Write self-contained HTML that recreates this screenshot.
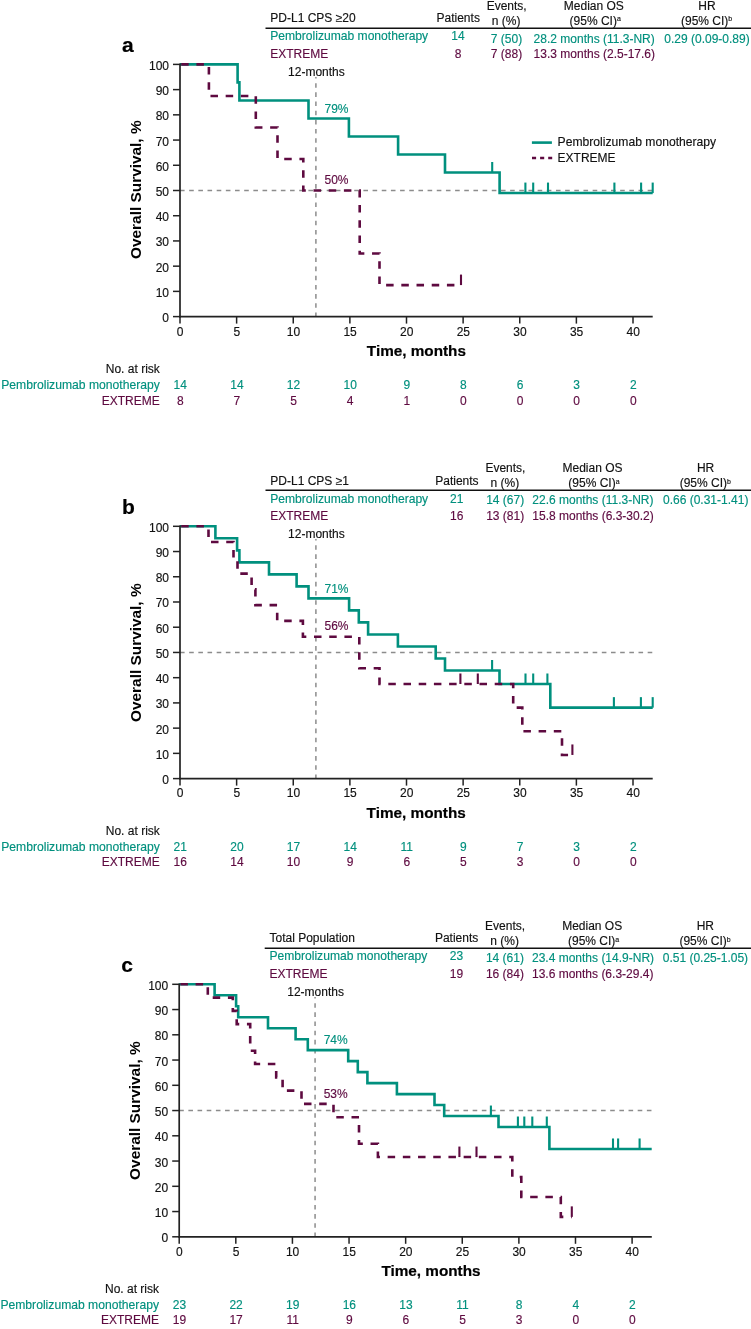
<!DOCTYPE html><html><head><meta charset="utf-8"><title>Overall survival</title><style>html,body{margin:0;padding:0;background:#fff;}svg{display:block;will-change:transform;}text{font-family:"Liberation Sans", sans-serif;}</style></head><body>
<svg width="751" height="1329" viewBox="0 0 751 1329">
<rect width="751" height="1329" fill="#fff"/>
<text x="270.30" y="22.40" font-size="12" text-anchor="start" fill="#111" stroke="#111" stroke-width="0.15" font-weight="normal" >PD-L1 CPS ≥20</text>
<text x="458.20" y="22.40" font-size="12" text-anchor="middle" fill="#111" stroke="#111" stroke-width="0.15" font-weight="normal" >Patients</text>
<text x="506.70" y="9.75" font-size="12" text-anchor="middle" fill="#111" stroke="#111" stroke-width="0.15" font-weight="normal" >Events,</text>
<text x="506.20" y="25.10" font-size="12" text-anchor="middle" fill="#111" stroke="#111" stroke-width="0.15" font-weight="normal" >n (%)</text>
<text x="593.80" y="9.75" font-size="12" text-anchor="middle" fill="#111" stroke="#111" stroke-width="0.15" font-weight="normal" >Median OS</text>
<text x="569.60" y="25.10" font-size="12" fill="#111" stroke="#111" stroke-width="0.15">(95% CI)<tspan font-size="7" dy="-3.8">a</tspan></text>
<text x="706.90" y="9.75" font-size="12" text-anchor="middle" fill="#111" stroke="#111" stroke-width="0.15" font-weight="normal" >HR</text>
<text x="681.00" y="25.10" font-size="12" fill="#111" stroke="#111" stroke-width="0.15">(95% CI)<tspan font-size="7" dy="-3.8">b</tspan></text>
<line x1="265.50" y1="28.20" x2="751" y2="28.20" stroke="#111" stroke-width="1.4"/>
<text x="270.20" y="40.30" font-size="12.1" text-anchor="start" fill="#00907e" stroke="#00907e" stroke-width="0.15" font-weight="normal" >Pembrolizumab monotherapy</text>
<text x="458.00" y="40.30" font-size="12" text-anchor="middle" fill="#00907e" stroke="#00907e" stroke-width="0.15" font-weight="normal" >14</text>
<text x="506.50" y="42.60" font-size="12" text-anchor="middle" fill="#00907e" stroke="#00907e" stroke-width="0.15" font-weight="normal" >7 (50)</text>
<text x="533.60" y="42.60" font-size="12" text-anchor="start" fill="#00907e" stroke="#00907e" stroke-width="0.15" font-weight="normal" >28.2 months (11.3-NR)</text>
<text x="707.00" y="42.60" font-size="12" text-anchor="middle" fill="#00907e" stroke="#00907e" stroke-width="0.15" font-weight="normal" >0.29 (0.09-0.89)</text>
<text x="270.20" y="58.20" font-size="12" text-anchor="start" fill="#5e0a40" stroke="#5e0a40" stroke-width="0.15" font-weight="normal" >EXTREME</text>
<text x="458.00" y="58.20" font-size="12" text-anchor="middle" fill="#5e0a40" stroke="#5e0a40" stroke-width="0.15" font-weight="normal" >8</text>
<text x="506.50" y="58.20" font-size="12" text-anchor="middle" fill="#5e0a40" stroke="#5e0a40" stroke-width="0.15" font-weight="normal" >7 (88)</text>
<text x="533.60" y="58.20" font-size="12" text-anchor="start" fill="#5e0a40" stroke="#5e0a40" stroke-width="0.15" font-weight="normal" >13.3 months (2.5-17.6)</text>
<text x="122.00" y="51.60" font-size="21" text-anchor="start" fill="#000" stroke="#000" stroke-width="0.2" font-weight="bold" >a</text>
<text x="0" y="0" font-size="15.4" font-weight="bold" fill="#000" text-anchor="middle" transform="translate(140.60,189.70) rotate(-90)">Overall Survival, %</text>
<text x="416.40" y="355.80" font-size="15.3" text-anchor="middle" fill="#000" stroke="#000" stroke-width="0.2" font-weight="bold" >Time, months</text>
<line x1="180.00" y1="190.50" x2="652.70" y2="190.50" stroke="#8c8c8c" stroke-width="1.5" stroke-dasharray="4.6 4.57"/>
<line x1="315.90" y1="77.00" x2="315.90" y2="316.60" stroke="#8c8c8c" stroke-width="1.5" stroke-dasharray="4.6 4.57" stroke-dashoffset="3.0"/>
<text x="316.40" y="75.60" font-size="12" text-anchor="middle" fill="#111" stroke="#111" stroke-width="0.15" font-weight="normal" >12-months</text>
<line x1="173.00" y1="316.60" x2="180.00" y2="316.60" stroke="#222" stroke-width="1.5"/>
<text x="169.00" y="322.10" font-size="12" text-anchor="end" fill="#111" stroke="#111" stroke-width="0.15" font-weight="normal" >0</text>
<line x1="173.00" y1="291.38" x2="180.00" y2="291.38" stroke="#222" stroke-width="1.5"/>
<text x="169.00" y="296.88" font-size="12" text-anchor="end" fill="#111" stroke="#111" stroke-width="0.15" font-weight="normal" >10</text>
<line x1="173.00" y1="266.16" x2="180.00" y2="266.16" stroke="#222" stroke-width="1.5"/>
<text x="169.00" y="271.66" font-size="12" text-anchor="end" fill="#111" stroke="#111" stroke-width="0.15" font-weight="normal" >20</text>
<line x1="173.00" y1="240.94" x2="180.00" y2="240.94" stroke="#222" stroke-width="1.5"/>
<text x="169.00" y="246.44" font-size="12" text-anchor="end" fill="#111" stroke="#111" stroke-width="0.15" font-weight="normal" >30</text>
<line x1="173.00" y1="215.72" x2="180.00" y2="215.72" stroke="#222" stroke-width="1.5"/>
<text x="169.00" y="221.22" font-size="12" text-anchor="end" fill="#111" stroke="#111" stroke-width="0.15" font-weight="normal" >40</text>
<line x1="173.00" y1="190.50" x2="180.00" y2="190.50" stroke="#222" stroke-width="1.5"/>
<text x="169.00" y="196.00" font-size="12" text-anchor="end" fill="#111" stroke="#111" stroke-width="0.15" font-weight="normal" >50</text>
<line x1="173.00" y1="165.28" x2="180.00" y2="165.28" stroke="#222" stroke-width="1.5"/>
<text x="169.00" y="170.78" font-size="12" text-anchor="end" fill="#111" stroke="#111" stroke-width="0.15" font-weight="normal" >60</text>
<line x1="173.00" y1="140.06" x2="180.00" y2="140.06" stroke="#222" stroke-width="1.5"/>
<text x="169.00" y="145.56" font-size="12" text-anchor="end" fill="#111" stroke="#111" stroke-width="0.15" font-weight="normal" >70</text>
<line x1="173.00" y1="114.84" x2="180.00" y2="114.84" stroke="#222" stroke-width="1.5"/>
<text x="169.00" y="120.34" font-size="12" text-anchor="end" fill="#111" stroke="#111" stroke-width="0.15" font-weight="normal" >80</text>
<line x1="173.00" y1="89.62" x2="180.00" y2="89.62" stroke="#222" stroke-width="1.5"/>
<text x="169.00" y="95.12" font-size="12" text-anchor="end" fill="#111" stroke="#111" stroke-width="0.15" font-weight="normal" >90</text>
<line x1="173.00" y1="64.40" x2="180.00" y2="64.40" stroke="#222" stroke-width="1.5"/>
<text x="169.00" y="69.90" font-size="12" text-anchor="end" fill="#111" stroke="#111" stroke-width="0.15" font-weight="normal" >100</text>
<line x1="180.00" y1="316.60" x2="180.00" y2="323.60" stroke="#222" stroke-width="1.5"/>
<text x="180.20" y="335.60" font-size="12" text-anchor="middle" fill="#111" stroke="#111" stroke-width="0.15" font-weight="normal" >0</text>
<line x1="236.62" y1="316.60" x2="236.62" y2="323.60" stroke="#222" stroke-width="1.5"/>
<text x="236.82" y="335.60" font-size="12" text-anchor="middle" fill="#111" stroke="#111" stroke-width="0.15" font-weight="normal" >5</text>
<line x1="293.25" y1="316.60" x2="293.25" y2="323.60" stroke="#222" stroke-width="1.5"/>
<text x="293.45" y="335.60" font-size="12" text-anchor="middle" fill="#111" stroke="#111" stroke-width="0.15" font-weight="normal" >10</text>
<line x1="349.88" y1="316.60" x2="349.88" y2="323.60" stroke="#222" stroke-width="1.5"/>
<text x="350.07" y="335.60" font-size="12" text-anchor="middle" fill="#111" stroke="#111" stroke-width="0.15" font-weight="normal" >15</text>
<line x1="406.50" y1="316.60" x2="406.50" y2="323.60" stroke="#222" stroke-width="1.5"/>
<text x="406.70" y="335.60" font-size="12" text-anchor="middle" fill="#111" stroke="#111" stroke-width="0.15" font-weight="normal" >20</text>
<line x1="463.12" y1="316.60" x2="463.12" y2="323.60" stroke="#222" stroke-width="1.5"/>
<text x="463.32" y="335.60" font-size="12" text-anchor="middle" fill="#111" stroke="#111" stroke-width="0.15" font-weight="normal" >25</text>
<line x1="519.75" y1="316.60" x2="519.75" y2="323.60" stroke="#222" stroke-width="1.5"/>
<text x="519.95" y="335.60" font-size="12" text-anchor="middle" fill="#111" stroke="#111" stroke-width="0.15" font-weight="normal" >30</text>
<line x1="576.38" y1="316.60" x2="576.38" y2="323.60" stroke="#222" stroke-width="1.5"/>
<text x="576.58" y="335.60" font-size="12" text-anchor="middle" fill="#111" stroke="#111" stroke-width="0.15" font-weight="normal" >35</text>
<line x1="633.00" y1="316.60" x2="633.00" y2="323.60" stroke="#222" stroke-width="1.5"/>
<text x="633.20" y="335.60" font-size="12" text-anchor="middle" fill="#111" stroke="#111" stroke-width="0.15" font-weight="normal" >40</text>
<path d="M180.00,64.40 H237.60 V82.41 H239.40 V100.43 H308.50 V118.44 H348.90 V136.46 H398.10 V154.47 H445.00 V172.49 H499.60 V193.07 H652.70" fill="none" stroke="#00907e" stroke-width="2.6" stroke-linejoin="miter" stroke-linecap="butt"/>
<line x1="492.20" y1="172.49" x2="492.20" y2="161.99" stroke="#00907e" stroke-width="2.1"/>
<line x1="525.40" y1="193.07" x2="525.40" y2="182.57" stroke="#00907e" stroke-width="2.1"/>
<line x1="533.20" y1="193.07" x2="533.20" y2="182.57" stroke="#00907e" stroke-width="2.1"/>
<line x1="548.00" y1="193.07" x2="548.00" y2="182.57" stroke="#00907e" stroke-width="2.1"/>
<line x1="614.40" y1="193.07" x2="614.40" y2="182.57" stroke="#00907e" stroke-width="2.1"/>
<line x1="641.10" y1="193.07" x2="641.10" y2="182.57" stroke="#00907e" stroke-width="2.1"/>
<line x1="652.70" y1="193.07" x2="652.70" y2="182.57" stroke="#00907e" stroke-width="2.1"/>
<path d="M180.00,64.40 H208.90 V95.93 H255.80 V127.45 H277.50 V158.98 H303.30 V190.50 H359.70 V253.55 H379.50 V285.08 H461.00" fill="none" stroke="#5e0a40" stroke-width="2.6" stroke-dasharray="7.5 7.7" stroke-dashoffset="-1.2" stroke-linejoin="miter" stroke-linecap="butt"/>
<line x1="461.00" y1="285.08" x2="461.00" y2="274.58" stroke="#5e0a40" stroke-width="2.1"/>
<line x1="180.00" y1="63.60" x2="180.00" y2="317.40" stroke="#222" stroke-width="1.7"/>
<line x1="179.20" y1="316.60" x2="652.70" y2="316.60" stroke="#222" stroke-width="1.7"/>
<text x="324.50" y="112.50" font-size="12" text-anchor="start" fill="#00907e" stroke="#00907e" stroke-width="0.15" font-weight="normal" >79%</text>
<text x="324.50" y="184.00" font-size="12" text-anchor="start" fill="#5e0a40" stroke="#5e0a40" stroke-width="0.15" font-weight="normal" >50%</text>
<text x="159.80" y="372.90" font-size="12" text-anchor="end" fill="#111" stroke="#111" stroke-width="0.15" font-weight="normal" >No. at risk</text>
<text x="159.80" y="389.30" font-size="12.15" text-anchor="end" fill="#00907e" stroke="#00907e" stroke-width="0.15" font-weight="normal" >Pembrolizumab monotherapy</text>
<text x="159.80" y="404.90" font-size="12" text-anchor="end" fill="#5e0a40" stroke="#5e0a40" stroke-width="0.15" font-weight="normal" >EXTREME</text>
<text x="180.30" y="389.30" font-size="12" text-anchor="middle" fill="#00907e" stroke="#00907e" stroke-width="0.15" font-weight="normal" >14</text>
<text x="180.30" y="404.90" font-size="12" text-anchor="middle" fill="#5e0a40" stroke="#5e0a40" stroke-width="0.15" font-weight="normal" >8</text>
<text x="236.93" y="389.30" font-size="12" text-anchor="middle" fill="#00907e" stroke="#00907e" stroke-width="0.15" font-weight="normal" >14</text>
<text x="236.93" y="404.90" font-size="12" text-anchor="middle" fill="#5e0a40" stroke="#5e0a40" stroke-width="0.15" font-weight="normal" >7</text>
<text x="293.55" y="389.30" font-size="12" text-anchor="middle" fill="#00907e" stroke="#00907e" stroke-width="0.15" font-weight="normal" >12</text>
<text x="293.55" y="404.90" font-size="12" text-anchor="middle" fill="#5e0a40" stroke="#5e0a40" stroke-width="0.15" font-weight="normal" >5</text>
<text x="350.18" y="389.30" font-size="12" text-anchor="middle" fill="#00907e" stroke="#00907e" stroke-width="0.15" font-weight="normal" >10</text>
<text x="350.18" y="404.90" font-size="12" text-anchor="middle" fill="#5e0a40" stroke="#5e0a40" stroke-width="0.15" font-weight="normal" >4</text>
<text x="406.80" y="389.30" font-size="12" text-anchor="middle" fill="#00907e" stroke="#00907e" stroke-width="0.15" font-weight="normal" >9</text>
<text x="406.80" y="404.90" font-size="12" text-anchor="middle" fill="#5e0a40" stroke="#5e0a40" stroke-width="0.15" font-weight="normal" >1</text>
<text x="463.43" y="389.30" font-size="12" text-anchor="middle" fill="#00907e" stroke="#00907e" stroke-width="0.15" font-weight="normal" >8</text>
<text x="463.43" y="404.90" font-size="12" text-anchor="middle" fill="#5e0a40" stroke="#5e0a40" stroke-width="0.15" font-weight="normal" >0</text>
<text x="520.05" y="389.30" font-size="12" text-anchor="middle" fill="#00907e" stroke="#00907e" stroke-width="0.15" font-weight="normal" >6</text>
<text x="520.05" y="404.90" font-size="12" text-anchor="middle" fill="#5e0a40" stroke="#5e0a40" stroke-width="0.15" font-weight="normal" >0</text>
<text x="576.67" y="389.30" font-size="12" text-anchor="middle" fill="#00907e" stroke="#00907e" stroke-width="0.15" font-weight="normal" >3</text>
<text x="576.67" y="404.90" font-size="12" text-anchor="middle" fill="#5e0a40" stroke="#5e0a40" stroke-width="0.15" font-weight="normal" >0</text>
<text x="633.30" y="389.30" font-size="12" text-anchor="middle" fill="#00907e" stroke="#00907e" stroke-width="0.15" font-weight="normal" >2</text>
<text x="633.30" y="404.90" font-size="12" text-anchor="middle" fill="#5e0a40" stroke="#5e0a40" stroke-width="0.15" font-weight="normal" >0</text>
<line x1="531.9" y1="142.6" x2="551.9" y2="142.6" stroke="#00907e" stroke-width="2.6"/>
<line x1="532.0" y1="158.0" x2="552.2" y2="158.0" stroke="#5e0a40" stroke-width="2.6" stroke-dasharray="4.1 4"/>
<text x="557.60" y="145.80" font-size="12.15" text-anchor="start" fill="#111" stroke="#111" stroke-width="0.15" font-weight="normal" >Pembrolizumab monotherapy</text>
<text x="557.60" y="162.00" font-size="12" text-anchor="start" fill="#111" stroke="#111" stroke-width="0.15" font-weight="normal" >EXTREME</text>
<text x="270.30" y="484.60" font-size="12" text-anchor="start" fill="#111" stroke="#111" stroke-width="0.15" font-weight="normal" >PD-L1 CPS ≥1</text>
<text x="456.90" y="484.60" font-size="12" text-anchor="middle" fill="#111" stroke="#111" stroke-width="0.15" font-weight="normal" >Patients</text>
<text x="505.40" y="471.80" font-size="12" text-anchor="middle" fill="#111" stroke="#111" stroke-width="0.15" font-weight="normal" >Events,</text>
<text x="504.90" y="487.30" font-size="12" text-anchor="middle" fill="#111" stroke="#111" stroke-width="0.15" font-weight="normal" >n (%)</text>
<text x="592.50" y="471.80" font-size="12" text-anchor="middle" fill="#111" stroke="#111" stroke-width="0.15" font-weight="normal" >Median OS</text>
<text x="568.30" y="487.30" font-size="12" fill="#111" stroke="#111" stroke-width="0.15">(95% CI)<tspan font-size="7" dy="-3.8">a</tspan></text>
<text x="705.60" y="471.80" font-size="12" text-anchor="middle" fill="#111" stroke="#111" stroke-width="0.15" font-weight="normal" >HR</text>
<text x="679.70" y="487.30" font-size="12" fill="#111" stroke="#111" stroke-width="0.15">(95% CI)<tspan font-size="7" dy="-3.8">b</tspan></text>
<line x1="265.50" y1="490.20" x2="751" y2="490.20" stroke="#111" stroke-width="1.4"/>
<text x="270.20" y="502.60" font-size="12.1" text-anchor="start" fill="#00907e" stroke="#00907e" stroke-width="0.15" font-weight="normal" >Pembrolizumab monotherapy</text>
<text x="456.70" y="502.60" font-size="12" text-anchor="middle" fill="#00907e" stroke="#00907e" stroke-width="0.15" font-weight="normal" >21</text>
<text x="505.20" y="504.30" font-size="12" text-anchor="middle" fill="#00907e" stroke="#00907e" stroke-width="0.15" font-weight="normal" >14 (67)</text>
<text x="532.30" y="504.30" font-size="12" text-anchor="start" fill="#00907e" stroke="#00907e" stroke-width="0.15" font-weight="normal" >22.6 months (11.3-NR)</text>
<text x="705.70" y="504.30" font-size="12" text-anchor="middle" fill="#00907e" stroke="#00907e" stroke-width="0.15" font-weight="normal" >0.66 (0.31-1.41)</text>
<text x="270.20" y="519.90" font-size="12" text-anchor="start" fill="#5e0a40" stroke="#5e0a40" stroke-width="0.15" font-weight="normal" >EXTREME</text>
<text x="456.70" y="519.90" font-size="12" text-anchor="middle" fill="#5e0a40" stroke="#5e0a40" stroke-width="0.15" font-weight="normal" >16</text>
<text x="505.20" y="519.90" font-size="12" text-anchor="middle" fill="#5e0a40" stroke="#5e0a40" stroke-width="0.15" font-weight="normal" >13 (81)</text>
<text x="532.30" y="519.90" font-size="12" text-anchor="start" fill="#5e0a40" stroke="#5e0a40" stroke-width="0.15" font-weight="normal" >15.8 months (6.3-30.2)</text>
<text x="122.00" y="513.50" font-size="21" text-anchor="start" fill="#000" stroke="#000" stroke-width="0.2" font-weight="bold" >b</text>
<text x="0" y="0" font-size="15.4" font-weight="bold" fill="#000" text-anchor="middle" transform="translate(140.60,652.70) rotate(-90)">Overall Survival, %</text>
<text x="416.20" y="817.50" font-size="15.3" text-anchor="middle" fill="#000" stroke="#000" stroke-width="0.2" font-weight="bold" >Time, months</text>
<line x1="180.00" y1="652.45" x2="652.70" y2="652.45" stroke="#8c8c8c" stroke-width="1.5" stroke-dasharray="4.6 4.57"/>
<line x1="315.90" y1="539.00" x2="315.90" y2="778.60" stroke="#8c8c8c" stroke-width="1.5" stroke-dasharray="4.6 4.57" stroke-dashoffset="3.0"/>
<text x="316.40" y="537.60" font-size="12" text-anchor="middle" fill="#111" stroke="#111" stroke-width="0.15" font-weight="normal" >12-months</text>
<line x1="173.00" y1="778.60" x2="180.00" y2="778.60" stroke="#222" stroke-width="1.5"/>
<text x="169.00" y="784.10" font-size="12" text-anchor="end" fill="#111" stroke="#111" stroke-width="0.15" font-weight="normal" >0</text>
<line x1="173.00" y1="753.37" x2="180.00" y2="753.37" stroke="#222" stroke-width="1.5"/>
<text x="169.00" y="758.87" font-size="12" text-anchor="end" fill="#111" stroke="#111" stroke-width="0.15" font-weight="normal" >10</text>
<line x1="173.00" y1="728.14" x2="180.00" y2="728.14" stroke="#222" stroke-width="1.5"/>
<text x="169.00" y="733.64" font-size="12" text-anchor="end" fill="#111" stroke="#111" stroke-width="0.15" font-weight="normal" >20</text>
<line x1="173.00" y1="702.91" x2="180.00" y2="702.91" stroke="#222" stroke-width="1.5"/>
<text x="169.00" y="708.41" font-size="12" text-anchor="end" fill="#111" stroke="#111" stroke-width="0.15" font-weight="normal" >30</text>
<line x1="173.00" y1="677.68" x2="180.00" y2="677.68" stroke="#222" stroke-width="1.5"/>
<text x="169.00" y="683.18" font-size="12" text-anchor="end" fill="#111" stroke="#111" stroke-width="0.15" font-weight="normal" >40</text>
<line x1="173.00" y1="652.45" x2="180.00" y2="652.45" stroke="#222" stroke-width="1.5"/>
<text x="169.00" y="657.95" font-size="12" text-anchor="end" fill="#111" stroke="#111" stroke-width="0.15" font-weight="normal" >50</text>
<line x1="173.00" y1="627.22" x2="180.00" y2="627.22" stroke="#222" stroke-width="1.5"/>
<text x="169.00" y="632.72" font-size="12" text-anchor="end" fill="#111" stroke="#111" stroke-width="0.15" font-weight="normal" >60</text>
<line x1="173.00" y1="601.99" x2="180.00" y2="601.99" stroke="#222" stroke-width="1.5"/>
<text x="169.00" y="607.49" font-size="12" text-anchor="end" fill="#111" stroke="#111" stroke-width="0.15" font-weight="normal" >70</text>
<line x1="173.00" y1="576.76" x2="180.00" y2="576.76" stroke="#222" stroke-width="1.5"/>
<text x="169.00" y="582.26" font-size="12" text-anchor="end" fill="#111" stroke="#111" stroke-width="0.15" font-weight="normal" >80</text>
<line x1="173.00" y1="551.53" x2="180.00" y2="551.53" stroke="#222" stroke-width="1.5"/>
<text x="169.00" y="557.03" font-size="12" text-anchor="end" fill="#111" stroke="#111" stroke-width="0.15" font-weight="normal" >90</text>
<line x1="173.00" y1="526.30" x2="180.00" y2="526.30" stroke="#222" stroke-width="1.5"/>
<text x="169.00" y="531.80" font-size="12" text-anchor="end" fill="#111" stroke="#111" stroke-width="0.15" font-weight="normal" >100</text>
<line x1="180.00" y1="778.60" x2="180.00" y2="785.60" stroke="#222" stroke-width="1.5"/>
<text x="180.20" y="797.00" font-size="12" text-anchor="middle" fill="#111" stroke="#111" stroke-width="0.15" font-weight="normal" >0</text>
<line x1="236.62" y1="778.60" x2="236.62" y2="785.60" stroke="#222" stroke-width="1.5"/>
<text x="236.82" y="797.00" font-size="12" text-anchor="middle" fill="#111" stroke="#111" stroke-width="0.15" font-weight="normal" >5</text>
<line x1="293.25" y1="778.60" x2="293.25" y2="785.60" stroke="#222" stroke-width="1.5"/>
<text x="293.45" y="797.00" font-size="12" text-anchor="middle" fill="#111" stroke="#111" stroke-width="0.15" font-weight="normal" >10</text>
<line x1="349.88" y1="778.60" x2="349.88" y2="785.60" stroke="#222" stroke-width="1.5"/>
<text x="350.07" y="797.00" font-size="12" text-anchor="middle" fill="#111" stroke="#111" stroke-width="0.15" font-weight="normal" >15</text>
<line x1="406.50" y1="778.60" x2="406.50" y2="785.60" stroke="#222" stroke-width="1.5"/>
<text x="406.70" y="797.00" font-size="12" text-anchor="middle" fill="#111" stroke="#111" stroke-width="0.15" font-weight="normal" >20</text>
<line x1="463.12" y1="778.60" x2="463.12" y2="785.60" stroke="#222" stroke-width="1.5"/>
<text x="463.32" y="797.00" font-size="12" text-anchor="middle" fill="#111" stroke="#111" stroke-width="0.15" font-weight="normal" >25</text>
<line x1="519.75" y1="778.60" x2="519.75" y2="785.60" stroke="#222" stroke-width="1.5"/>
<text x="519.95" y="797.00" font-size="12" text-anchor="middle" fill="#111" stroke="#111" stroke-width="0.15" font-weight="normal" >30</text>
<line x1="576.38" y1="778.60" x2="576.38" y2="785.60" stroke="#222" stroke-width="1.5"/>
<text x="576.58" y="797.00" font-size="12" text-anchor="middle" fill="#111" stroke="#111" stroke-width="0.15" font-weight="normal" >35</text>
<line x1="633.00" y1="778.60" x2="633.00" y2="785.60" stroke="#222" stroke-width="1.5"/>
<text x="633.20" y="797.00" font-size="12" text-anchor="middle" fill="#111" stroke="#111" stroke-width="0.15" font-weight="normal" >40</text>
<path d="M180.00,526.30 H215.40 V538.31 H237.10 V550.33 H239.40 V562.34 H269.00 V574.36 H296.60 V586.37 H308.50 V598.38 H349.10 V610.40 H358.80 V622.41 H368.10 V634.43 H397.90 V646.44 H435.70 V658.46 H445.00 V670.47 H499.50 V683.99 H550.30 V707.64 H652.70" fill="none" stroke="#00907e" stroke-width="2.6" stroke-linejoin="miter" stroke-linecap="butt"/>
<line x1="492.10" y1="670.47" x2="492.10" y2="659.97" stroke="#00907e" stroke-width="2.1"/>
<line x1="525.50" y1="683.99" x2="525.50" y2="673.49" stroke="#00907e" stroke-width="2.1"/>
<line x1="533.20" y1="683.99" x2="533.20" y2="673.49" stroke="#00907e" stroke-width="2.1"/>
<line x1="547.40" y1="683.99" x2="547.40" y2="673.49" stroke="#00907e" stroke-width="2.1"/>
<line x1="613.90" y1="707.64" x2="613.90" y2="697.14" stroke="#00907e" stroke-width="2.1"/>
<line x1="640.90" y1="707.64" x2="640.90" y2="697.14" stroke="#00907e" stroke-width="2.1"/>
<line x1="652.70" y1="707.64" x2="652.70" y2="697.14" stroke="#00907e" stroke-width="2.1"/>
<path d="M180.00,526.30 H208.50 V542.07 H233.50 V557.84 H237.50 V573.61 H251.60 V589.38 H255.40 V605.14 H277.20 V620.91 H302.90 V636.68 H359.30 V668.22 H379.50 V683.99 H513.20 V707.64 H522.30 V731.29 H562.00 V754.95 H572.40" fill="none" stroke="#5e0a40" stroke-width="2.6" stroke-dasharray="7.5 7.7" stroke-dashoffset="-1.2" stroke-linejoin="miter" stroke-linecap="butt"/>
<line x1="460.40" y1="683.99" x2="460.40" y2="673.49" stroke="#5e0a40" stroke-width="2.1"/>
<line x1="477.80" y1="683.99" x2="477.80" y2="673.49" stroke="#5e0a40" stroke-width="2.1"/>
<line x1="572.40" y1="754.95" x2="572.40" y2="744.45" stroke="#5e0a40" stroke-width="2.1"/>
<line x1="180.00" y1="525.50" x2="180.00" y2="779.40" stroke="#222" stroke-width="1.7"/>
<line x1="179.20" y1="778.60" x2="652.70" y2="778.60" stroke="#222" stroke-width="1.7"/>
<text x="324.50" y="592.60" font-size="12" text-anchor="start" fill="#00907e" stroke="#00907e" stroke-width="0.15" font-weight="normal" >71%</text>
<text x="324.50" y="630.00" font-size="12" text-anchor="start" fill="#5e0a40" stroke="#5e0a40" stroke-width="0.15" font-weight="normal" >56%</text>
<text x="159.80" y="834.60" font-size="12" text-anchor="end" fill="#111" stroke="#111" stroke-width="0.15" font-weight="normal" >No. at risk</text>
<text x="159.80" y="850.60" font-size="12.15" text-anchor="end" fill="#00907e" stroke="#00907e" stroke-width="0.15" font-weight="normal" >Pembrolizumab monotherapy</text>
<text x="159.80" y="866.20" font-size="12" text-anchor="end" fill="#5e0a40" stroke="#5e0a40" stroke-width="0.15" font-weight="normal" >EXTREME</text>
<text x="180.30" y="850.60" font-size="12" text-anchor="middle" fill="#00907e" stroke="#00907e" stroke-width="0.15" font-weight="normal" >21</text>
<text x="180.30" y="866.20" font-size="12" text-anchor="middle" fill="#5e0a40" stroke="#5e0a40" stroke-width="0.15" font-weight="normal" >16</text>
<text x="236.93" y="850.60" font-size="12" text-anchor="middle" fill="#00907e" stroke="#00907e" stroke-width="0.15" font-weight="normal" >20</text>
<text x="236.93" y="866.20" font-size="12" text-anchor="middle" fill="#5e0a40" stroke="#5e0a40" stroke-width="0.15" font-weight="normal" >14</text>
<text x="293.55" y="850.60" font-size="12" text-anchor="middle" fill="#00907e" stroke="#00907e" stroke-width="0.15" font-weight="normal" >17</text>
<text x="293.55" y="866.20" font-size="12" text-anchor="middle" fill="#5e0a40" stroke="#5e0a40" stroke-width="0.15" font-weight="normal" >10</text>
<text x="350.18" y="850.60" font-size="12" text-anchor="middle" fill="#00907e" stroke="#00907e" stroke-width="0.15" font-weight="normal" >14</text>
<text x="350.18" y="866.20" font-size="12" text-anchor="middle" fill="#5e0a40" stroke="#5e0a40" stroke-width="0.15" font-weight="normal" >9</text>
<text x="406.80" y="850.60" font-size="12" text-anchor="middle" fill="#00907e" stroke="#00907e" stroke-width="0.15" font-weight="normal" >11</text>
<text x="406.80" y="866.20" font-size="12" text-anchor="middle" fill="#5e0a40" stroke="#5e0a40" stroke-width="0.15" font-weight="normal" >6</text>
<text x="463.43" y="850.60" font-size="12" text-anchor="middle" fill="#00907e" stroke="#00907e" stroke-width="0.15" font-weight="normal" >9</text>
<text x="463.43" y="866.20" font-size="12" text-anchor="middle" fill="#5e0a40" stroke="#5e0a40" stroke-width="0.15" font-weight="normal" >5</text>
<text x="520.05" y="850.60" font-size="12" text-anchor="middle" fill="#00907e" stroke="#00907e" stroke-width="0.15" font-weight="normal" >7</text>
<text x="520.05" y="866.20" font-size="12" text-anchor="middle" fill="#5e0a40" stroke="#5e0a40" stroke-width="0.15" font-weight="normal" >3</text>
<text x="576.67" y="850.60" font-size="12" text-anchor="middle" fill="#00907e" stroke="#00907e" stroke-width="0.15" font-weight="normal" >3</text>
<text x="576.67" y="866.20" font-size="12" text-anchor="middle" fill="#5e0a40" stroke="#5e0a40" stroke-width="0.15" font-weight="normal" >0</text>
<text x="633.30" y="850.60" font-size="12" text-anchor="middle" fill="#00907e" stroke="#00907e" stroke-width="0.15" font-weight="normal" >2</text>
<text x="633.30" y="866.20" font-size="12" text-anchor="middle" fill="#5e0a40" stroke="#5e0a40" stroke-width="0.15" font-weight="normal" >0</text>
<text x="269.50" y="942.00" font-size="12" text-anchor="start" fill="#111" stroke="#111" stroke-width="0.15" font-weight="normal" >Total Population</text>
<text x="456.60" y="942.00" font-size="12" text-anchor="middle" fill="#111" stroke="#111" stroke-width="0.15" font-weight="normal" >Patients</text>
<text x="505.10" y="930.00" font-size="12" text-anchor="middle" fill="#111" stroke="#111" stroke-width="0.15" font-weight="normal" >Events,</text>
<text x="504.60" y="945.40" font-size="12" text-anchor="middle" fill="#111" stroke="#111" stroke-width="0.15" font-weight="normal" >n (%)</text>
<text x="592.20" y="930.00" font-size="12" text-anchor="middle" fill="#111" stroke="#111" stroke-width="0.15" font-weight="normal" >Median OS</text>
<text x="568.00" y="945.40" font-size="12" fill="#111" stroke="#111" stroke-width="0.15">(95% CI)<tspan font-size="7" dy="-3.8">a</tspan></text>
<text x="705.30" y="930.00" font-size="12" text-anchor="middle" fill="#111" stroke="#111" stroke-width="0.15" font-weight="normal" >HR</text>
<text x="679.40" y="945.40" font-size="12" fill="#111" stroke="#111" stroke-width="0.15">(95% CI)<tspan font-size="7" dy="-3.8">b</tspan></text>
<line x1="264.70" y1="948.20" x2="751" y2="948.20" stroke="#111" stroke-width="1.4"/>
<text x="269.40" y="960.20" font-size="12.1" text-anchor="start" fill="#00907e" stroke="#00907e" stroke-width="0.15" font-weight="normal" >Pembrolizumab monotherapy</text>
<text x="456.40" y="960.20" font-size="12" text-anchor="middle" fill="#00907e" stroke="#00907e" stroke-width="0.15" font-weight="normal" >23</text>
<text x="504.90" y="962.40" font-size="12" text-anchor="middle" fill="#00907e" stroke="#00907e" stroke-width="0.15" font-weight="normal" >14 (61)</text>
<text x="532.00" y="962.40" font-size="12" text-anchor="start" fill="#00907e" stroke="#00907e" stroke-width="0.15" font-weight="normal" >23.4 months (14.9-NR)</text>
<text x="705.40" y="962.40" font-size="12" text-anchor="middle" fill="#00907e" stroke="#00907e" stroke-width="0.15" font-weight="normal" >0.51 (0.25-1.05)</text>
<text x="269.40" y="978.20" font-size="12" text-anchor="start" fill="#5e0a40" stroke="#5e0a40" stroke-width="0.15" font-weight="normal" >EXTREME</text>
<text x="456.40" y="978.20" font-size="12" text-anchor="middle" fill="#5e0a40" stroke="#5e0a40" stroke-width="0.15" font-weight="normal" >19</text>
<text x="504.90" y="978.20" font-size="12" text-anchor="middle" fill="#5e0a40" stroke="#5e0a40" stroke-width="0.15" font-weight="normal" >16 (84)</text>
<text x="532.00" y="978.20" font-size="12" text-anchor="start" fill="#5e0a40" stroke="#5e0a40" stroke-width="0.15" font-weight="normal" >13.6 months (6.3-29.4)</text>
<text x="121.20" y="971.60" font-size="21" text-anchor="start" fill="#000" stroke="#000" stroke-width="0.2" font-weight="bold" >c</text>
<text x="0" y="0" font-size="15.4" font-weight="bold" fill="#000" text-anchor="middle" transform="translate(139.80,1110.60) rotate(-90)">Overall Survival, %</text>
<text x="431.00" y="1276.20" font-size="15.3" text-anchor="middle" fill="#000" stroke="#000" stroke-width="0.2" font-weight="bold" >Time, months</text>
<line x1="179.20" y1="1110.55" x2="651.80" y2="1110.55" stroke="#8c8c8c" stroke-width="1.5" stroke-dasharray="4.6 4.57"/>
<line x1="315.07" y1="997.00" x2="315.07" y2="1236.80" stroke="#8c8c8c" stroke-width="1.5" stroke-dasharray="4.6 4.57" stroke-dashoffset="3.0"/>
<text x="315.57" y="995.60" font-size="12" text-anchor="middle" fill="#111" stroke="#111" stroke-width="0.15" font-weight="normal" >12-months</text>
<line x1="172.20" y1="1236.80" x2="179.20" y2="1236.80" stroke="#222" stroke-width="1.5"/>
<text x="168.20" y="1242.30" font-size="12" text-anchor="end" fill="#111" stroke="#111" stroke-width="0.15" font-weight="normal" >0</text>
<line x1="172.20" y1="1211.55" x2="179.20" y2="1211.55" stroke="#222" stroke-width="1.5"/>
<text x="168.20" y="1217.05" font-size="12" text-anchor="end" fill="#111" stroke="#111" stroke-width="0.15" font-weight="normal" >10</text>
<line x1="172.20" y1="1186.30" x2="179.20" y2="1186.30" stroke="#222" stroke-width="1.5"/>
<text x="168.20" y="1191.80" font-size="12" text-anchor="end" fill="#111" stroke="#111" stroke-width="0.15" font-weight="normal" >20</text>
<line x1="172.20" y1="1161.05" x2="179.20" y2="1161.05" stroke="#222" stroke-width="1.5"/>
<text x="168.20" y="1166.55" font-size="12" text-anchor="end" fill="#111" stroke="#111" stroke-width="0.15" font-weight="normal" >30</text>
<line x1="172.20" y1="1135.80" x2="179.20" y2="1135.80" stroke="#222" stroke-width="1.5"/>
<text x="168.20" y="1141.30" font-size="12" text-anchor="end" fill="#111" stroke="#111" stroke-width="0.15" font-weight="normal" >40</text>
<line x1="172.20" y1="1110.55" x2="179.20" y2="1110.55" stroke="#222" stroke-width="1.5"/>
<text x="168.20" y="1116.05" font-size="12" text-anchor="end" fill="#111" stroke="#111" stroke-width="0.15" font-weight="normal" >50</text>
<line x1="172.20" y1="1085.30" x2="179.20" y2="1085.30" stroke="#222" stroke-width="1.5"/>
<text x="168.20" y="1090.80" font-size="12" text-anchor="end" fill="#111" stroke="#111" stroke-width="0.15" font-weight="normal" >60</text>
<line x1="172.20" y1="1060.05" x2="179.20" y2="1060.05" stroke="#222" stroke-width="1.5"/>
<text x="168.20" y="1065.55" font-size="12" text-anchor="end" fill="#111" stroke="#111" stroke-width="0.15" font-weight="normal" >70</text>
<line x1="172.20" y1="1034.80" x2="179.20" y2="1034.80" stroke="#222" stroke-width="1.5"/>
<text x="168.20" y="1040.30" font-size="12" text-anchor="end" fill="#111" stroke="#111" stroke-width="0.15" font-weight="normal" >80</text>
<line x1="172.20" y1="1009.55" x2="179.20" y2="1009.55" stroke="#222" stroke-width="1.5"/>
<text x="168.20" y="1015.05" font-size="12" text-anchor="end" fill="#111" stroke="#111" stroke-width="0.15" font-weight="normal" >90</text>
<line x1="172.20" y1="984.30" x2="179.20" y2="984.30" stroke="#222" stroke-width="1.5"/>
<text x="168.20" y="989.80" font-size="12" text-anchor="end" fill="#111" stroke="#111" stroke-width="0.15" font-weight="normal" >100</text>
<line x1="179.20" y1="1236.80" x2="179.20" y2="1243.80" stroke="#222" stroke-width="1.5"/>
<text x="179.40" y="1255.50" font-size="12" text-anchor="middle" fill="#111" stroke="#111" stroke-width="0.15" font-weight="normal" >0</text>
<line x1="235.81" y1="1236.80" x2="235.81" y2="1243.80" stroke="#222" stroke-width="1.5"/>
<text x="236.01" y="1255.50" font-size="12" text-anchor="middle" fill="#111" stroke="#111" stroke-width="0.15" font-weight="normal" >5</text>
<line x1="292.42" y1="1236.80" x2="292.42" y2="1243.80" stroke="#222" stroke-width="1.5"/>
<text x="292.62" y="1255.50" font-size="12" text-anchor="middle" fill="#111" stroke="#111" stroke-width="0.15" font-weight="normal" >10</text>
<line x1="349.04" y1="1236.80" x2="349.04" y2="1243.80" stroke="#222" stroke-width="1.5"/>
<text x="349.24" y="1255.50" font-size="12" text-anchor="middle" fill="#111" stroke="#111" stroke-width="0.15" font-weight="normal" >15</text>
<line x1="405.65" y1="1236.80" x2="405.65" y2="1243.80" stroke="#222" stroke-width="1.5"/>
<text x="405.85" y="1255.50" font-size="12" text-anchor="middle" fill="#111" stroke="#111" stroke-width="0.15" font-weight="normal" >20</text>
<line x1="462.26" y1="1236.80" x2="462.26" y2="1243.80" stroke="#222" stroke-width="1.5"/>
<text x="462.46" y="1255.50" font-size="12" text-anchor="middle" fill="#111" stroke="#111" stroke-width="0.15" font-weight="normal" >25</text>
<line x1="518.88" y1="1236.80" x2="518.88" y2="1243.80" stroke="#222" stroke-width="1.5"/>
<text x="519.08" y="1255.50" font-size="12" text-anchor="middle" fill="#111" stroke="#111" stroke-width="0.15" font-weight="normal" >30</text>
<line x1="575.49" y1="1236.80" x2="575.49" y2="1243.80" stroke="#222" stroke-width="1.5"/>
<text x="575.69" y="1255.50" font-size="12" text-anchor="middle" fill="#111" stroke="#111" stroke-width="0.15" font-weight="normal" >35</text>
<line x1="632.10" y1="1236.80" x2="632.10" y2="1243.80" stroke="#222" stroke-width="1.5"/>
<text x="632.30" y="1255.50" font-size="12" text-anchor="middle" fill="#111" stroke="#111" stroke-width="0.15" font-weight="normal" >40</text>
<path d="M179.20,984.30 H214.60 V995.28 H236.10 V1006.26 H238.20 V1017.23 H268.00 V1028.21 H295.60 V1039.19 H307.80 V1050.17 H348.20 V1061.15 H357.80 V1072.13 H367.40 V1083.10 H396.90 V1094.08 H434.50 V1105.06 H444.20 V1116.04 H498.50 V1127.02 H549.40 V1148.97 H651.70" fill="none" stroke="#00907e" stroke-width="2.6" stroke-linejoin="miter" stroke-linecap="butt"/>
<line x1="490.90" y1="1116.04" x2="490.90" y2="1105.54" stroke="#00907e" stroke-width="2.1"/>
<line x1="517.90" y1="1127.02" x2="517.90" y2="1116.52" stroke="#00907e" stroke-width="2.1"/>
<line x1="524.30" y1="1127.02" x2="524.30" y2="1116.52" stroke="#00907e" stroke-width="2.1"/>
<line x1="532.30" y1="1127.02" x2="532.30" y2="1116.52" stroke="#00907e" stroke-width="2.1"/>
<line x1="546.80" y1="1127.02" x2="546.80" y2="1116.52" stroke="#00907e" stroke-width="2.1"/>
<line x1="613.00" y1="1148.97" x2="613.00" y2="1138.47" stroke="#00907e" stroke-width="2.1"/>
<line x1="618.10" y1="1148.97" x2="618.10" y2="1138.47" stroke="#00907e" stroke-width="2.1"/>
<line x1="639.60" y1="1148.97" x2="639.60" y2="1138.47" stroke="#00907e" stroke-width="2.1"/>
<path d="M179.20,984.30 H207.80 V997.59 H232.80 V1010.88 H236.70 V1024.17 H250.20 V1050.75 H255.10 V1064.04 H276.20 V1077.33 H282.60 V1090.62 H301.50 V1103.90 H333.50 V1117.20 H359.00 V1143.77 H377.90 V1157.06 H512.30 V1177.00 H521.30 V1196.93 H560.80 V1216.87 H571.80" fill="none" stroke="#5e0a40" stroke-width="2.6" stroke-dasharray="7.5 7.7" stroke-dashoffset="-1.2" stroke-linejoin="miter" stroke-linecap="butt"/>
<line x1="459.40" y1="1157.06" x2="459.40" y2="1146.56" stroke="#5e0a40" stroke-width="2.1"/>
<line x1="476.50" y1="1157.06" x2="476.50" y2="1146.56" stroke="#5e0a40" stroke-width="2.1"/>
<line x1="571.80" y1="1216.87" x2="571.80" y2="1206.37" stroke="#5e0a40" stroke-width="2.1"/>
<line x1="179.20" y1="983.50" x2="179.20" y2="1237.60" stroke="#222" stroke-width="1.7"/>
<line x1="178.40" y1="1236.80" x2="651.80" y2="1236.80" stroke="#222" stroke-width="1.7"/>
<text x="323.70" y="1043.60" font-size="12" text-anchor="start" fill="#00907e" stroke="#00907e" stroke-width="0.15" font-weight="normal" >74%</text>
<text x="323.70" y="1098.30" font-size="12" text-anchor="start" fill="#5e0a40" stroke="#5e0a40" stroke-width="0.15" font-weight="normal" >53%</text>
<text x="159.00" y="1292.60" font-size="12" text-anchor="end" fill="#111" stroke="#111" stroke-width="0.15" font-weight="normal" >No. at risk</text>
<text x="159.00" y="1308.60" font-size="12.15" text-anchor="end" fill="#00907e" stroke="#00907e" stroke-width="0.15" font-weight="normal" >Pembrolizumab monotherapy</text>
<text x="159.00" y="1324.20" font-size="12" text-anchor="end" fill="#5e0a40" stroke="#5e0a40" stroke-width="0.15" font-weight="normal" >EXTREME</text>
<text x="179.50" y="1308.60" font-size="12" text-anchor="middle" fill="#00907e" stroke="#00907e" stroke-width="0.15" font-weight="normal" >23</text>
<text x="179.50" y="1324.20" font-size="12" text-anchor="middle" fill="#5e0a40" stroke="#5e0a40" stroke-width="0.15" font-weight="normal" >19</text>
<text x="236.11" y="1308.60" font-size="12" text-anchor="middle" fill="#00907e" stroke="#00907e" stroke-width="0.15" font-weight="normal" >22</text>
<text x="236.11" y="1324.20" font-size="12" text-anchor="middle" fill="#5e0a40" stroke="#5e0a40" stroke-width="0.15" font-weight="normal" >17</text>
<text x="292.72" y="1308.60" font-size="12" text-anchor="middle" fill="#00907e" stroke="#00907e" stroke-width="0.15" font-weight="normal" >19</text>
<text x="292.72" y="1324.20" font-size="12" text-anchor="middle" fill="#5e0a40" stroke="#5e0a40" stroke-width="0.15" font-weight="normal" >11</text>
<text x="349.34" y="1308.60" font-size="12" text-anchor="middle" fill="#00907e" stroke="#00907e" stroke-width="0.15" font-weight="normal" >16</text>
<text x="349.34" y="1324.20" font-size="12" text-anchor="middle" fill="#5e0a40" stroke="#5e0a40" stroke-width="0.15" font-weight="normal" >9</text>
<text x="405.95" y="1308.60" font-size="12" text-anchor="middle" fill="#00907e" stroke="#00907e" stroke-width="0.15" font-weight="normal" >13</text>
<text x="405.95" y="1324.20" font-size="12" text-anchor="middle" fill="#5e0a40" stroke="#5e0a40" stroke-width="0.15" font-weight="normal" >6</text>
<text x="462.56" y="1308.60" font-size="12" text-anchor="middle" fill="#00907e" stroke="#00907e" stroke-width="0.15" font-weight="normal" >11</text>
<text x="462.56" y="1324.20" font-size="12" text-anchor="middle" fill="#5e0a40" stroke="#5e0a40" stroke-width="0.15" font-weight="normal" >5</text>
<text x="519.17" y="1308.60" font-size="12" text-anchor="middle" fill="#00907e" stroke="#00907e" stroke-width="0.15" font-weight="normal" >8</text>
<text x="519.17" y="1324.20" font-size="12" text-anchor="middle" fill="#5e0a40" stroke="#5e0a40" stroke-width="0.15" font-weight="normal" >3</text>
<text x="575.79" y="1308.60" font-size="12" text-anchor="middle" fill="#00907e" stroke="#00907e" stroke-width="0.15" font-weight="normal" >4</text>
<text x="575.79" y="1324.20" font-size="12" text-anchor="middle" fill="#5e0a40" stroke="#5e0a40" stroke-width="0.15" font-weight="normal" >0</text>
<text x="632.40" y="1308.60" font-size="12" text-anchor="middle" fill="#00907e" stroke="#00907e" stroke-width="0.15" font-weight="normal" >2</text>
<text x="632.40" y="1324.20" font-size="12" text-anchor="middle" fill="#5e0a40" stroke="#5e0a40" stroke-width="0.15" font-weight="normal" >0</text>
</svg></body></html>
